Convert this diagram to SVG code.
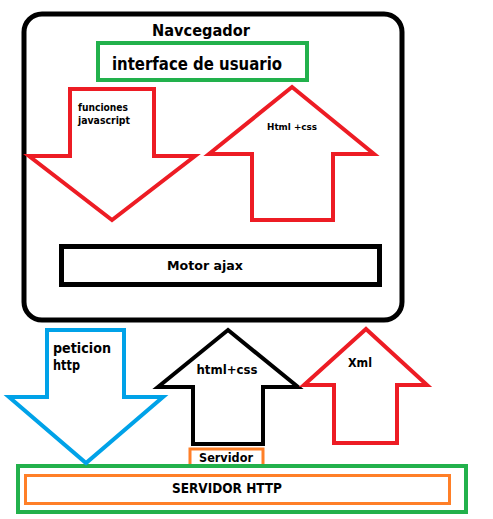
<svg xmlns="http://www.w3.org/2000/svg" width="493" height="519" viewBox="0 0 493 519">
<style>
text{font-family:"DejaVu Sans","Liberation Sans",sans-serif;font-weight:bold;fill:#000}
.arrow{fill:none;stroke-width:4;stroke-linejoin:miter}
.red{stroke:#ed1c24}
.blue{stroke:#00a2e8}
.blk{stroke:#000}
.green{fill:none;stroke:#22b14c;stroke-width:4}
.orange{fill:none;stroke:#ff7f27;stroke-width:3}
</style>
<rect width="493" height="519" fill="#fff"/>
<g id="navegador">
<rect x="24" y="14" width="378" height="306" rx="18" ry="18" fill="none" stroke="#000" stroke-width="5"/>
<text x="201" y="36" font-size="16" text-anchor="middle" textLength="98" lengthAdjust="spacingAndGlyphs">Navcegador</text>
</g>
<g id="interface">
<rect x="98" y="43" width="209" height="37" class="green"/>
<text x="197" y="70" font-size="17" text-anchor="middle" textLength="170" lengthAdjust="spacingAndGlyphs">interface de usuario</text>
</g>
<g id="motor-ajax">
<rect x="61.5" y="246.5" width="318" height="38" fill="none" stroke="#000" stroke-width="5"/>
<text x="205" y="270" font-size="13" text-anchor="middle" textLength="76" lengthAdjust="spacingAndGlyphs">Motor ajax</text>
</g>
<g id="servidor-http">
<path d="M190,467 V449 H263 V467" class="orange"/>
<text x="226" y="462" font-size="13" text-anchor="middle" textLength="54" lengthAdjust="spacingAndGlyphs">Servidor</text>
<rect x="18" y="466" width="448" height="46" class="green"/>
<rect x="25.5" y="475.5" width="424" height="28" class="orange"/>
<text x="227" y="493" font-size="14" text-anchor="middle" textLength="110" lengthAdjust="spacingAndGlyphs">SERVIDOR HTTP</text>
</g>
<g id="connectors">
<g id="arrow-funciones">
<polygon points="70,89 154,89 154,156 195,156 112,220 29,156 70,156" class="arrow red"/>
<text x="78" y="111" font-size="10" textLength="50" lengthAdjust="spacingAndGlyphs">funciones</text>
<text x="78" y="124" font-size="10" textLength="52" lengthAdjust="spacingAndGlyphs">javascript</text>
</g>
<g id="arrow-htmlcss-top">
<polygon points="292,87 374,154 333,154 333,220 252,220 252,154 209,154" class="arrow red"/>
<text x="292" y="130" font-size="9" text-anchor="middle" textLength="50" lengthAdjust="spacingAndGlyphs">Html +css</text>
</g>
<g id="arrow-peticion">
<polygon points="47,330 124,330 124,397 163,397 86,463 9,397 47,397" class="arrow blue"/>
<text x="53" y="353" font-size="14" textLength="58" lengthAdjust="spacingAndGlyphs">peticion</text>
<text x="53" y="370" font-size="14" textLength="27" lengthAdjust="spacingAndGlyphs">http</text>
</g>
<g id="arrow-htmlcss-bottom">
<polygon points="228,330 298,387 263,387 263,444 193,444 193,387 158,387" class="arrow blk"/>
<text x="227" y="374" font-size="13" text-anchor="middle" textLength="61" lengthAdjust="spacingAndGlyphs">html+css</text>
</g>
<g id="arrow-xml">
<polygon points="366,329 427,385 397,385 397,443 334,443 334,385 304,385" class="arrow red"/>
<text x="360" y="367" font-size="13" text-anchor="middle" textLength="24" lengthAdjust="spacingAndGlyphs">Xml</text>
</g>
</g>
</svg>
